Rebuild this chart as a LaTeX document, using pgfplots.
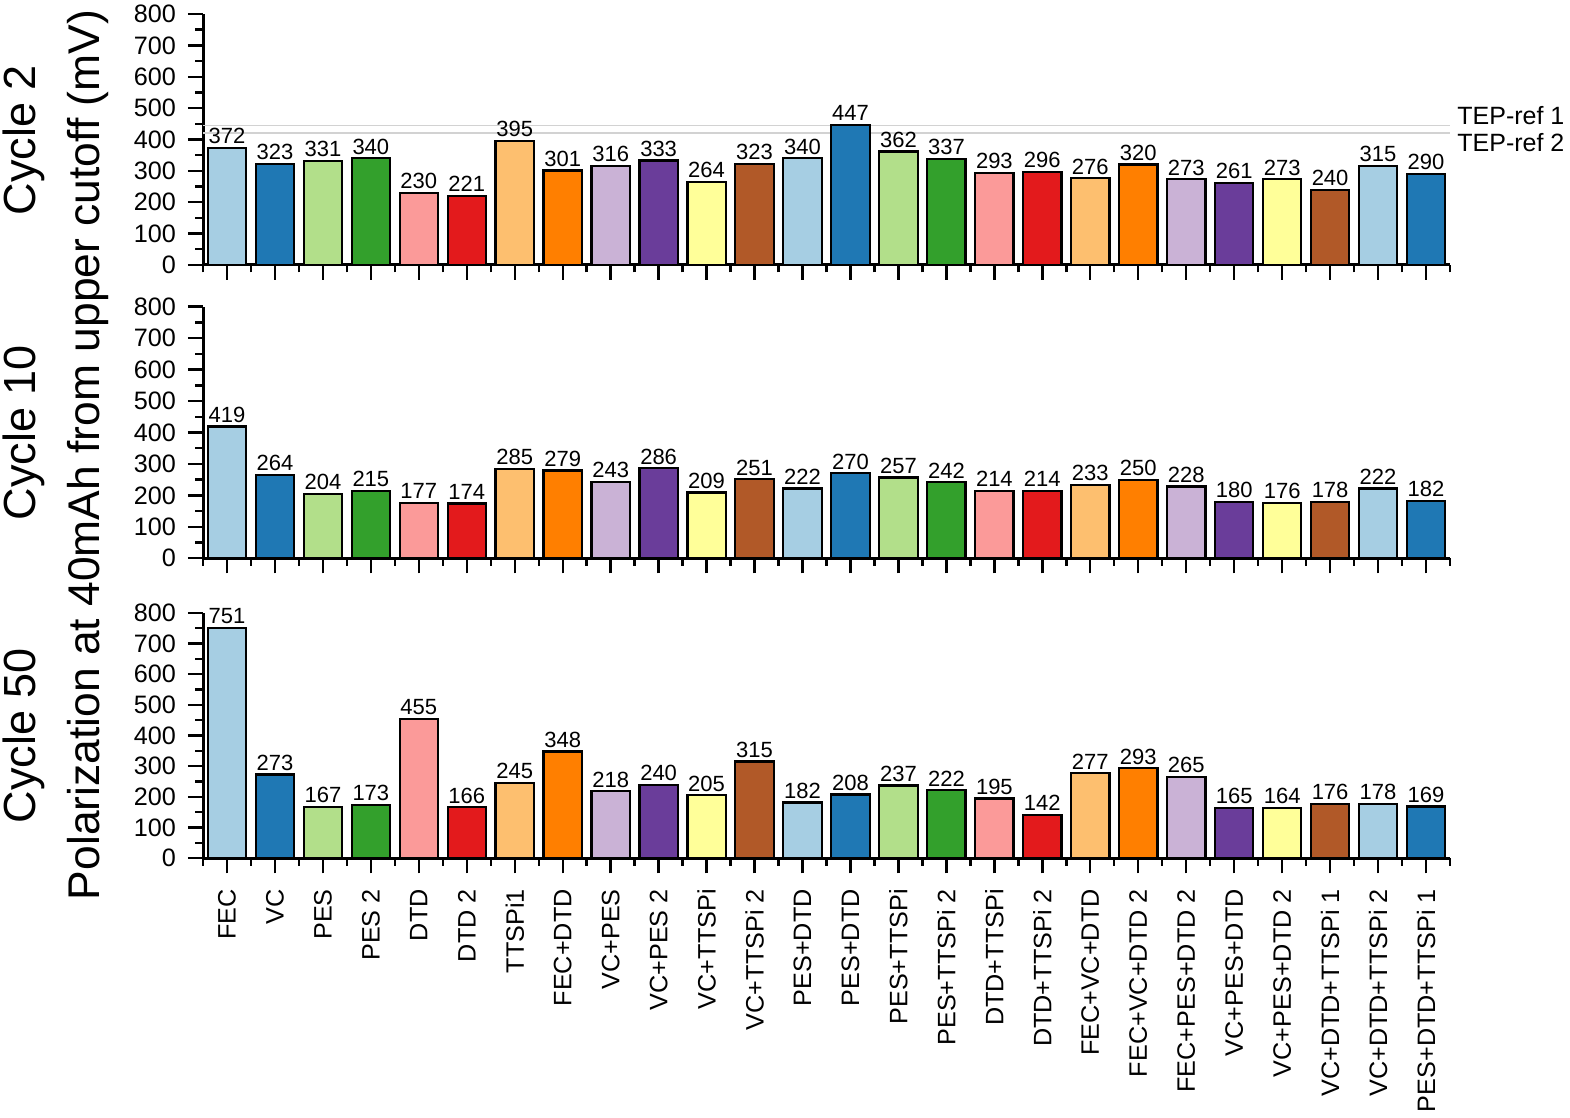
\documentclass[border=0pt]{standalone}
\usepackage{pgfplots}
\usepackage{pgfplotstable}
\pgfplotsset{compat=1.18}
\usepackage{fontspec}
\setmainfont{Liberation Sans}

\definecolor{c0}{HTML}{A6CEE3}
\definecolor{c1}{HTML}{1F78B4}
\definecolor{c2}{HTML}{B2DF8A}
\definecolor{c3}{HTML}{33A02C}
\definecolor{c4}{HTML}{FB9A99}
\definecolor{c5}{HTML}{E31A1C}
\definecolor{c6}{HTML}{FDBF6F}
\definecolor{c7}{HTML}{FF7F00}
\definecolor{c8}{HTML}{CAB2D6}
\definecolor{c9}{HTML}{6A3D9A}
\definecolor{c10}{HTML}{FFFF99}
\definecolor{c11}{HTML}{B15928}

% i = bar position, c = colour index, v = polarization (mV)
\pgfplotstableread{
i c v
0 0 372
1 1 323
2 2 331
3 3 340
4 4 230
5 5 221
6 6 395
7 7 301
8 8 316
9 9 333
10 10 264
11 11 323
12 0 340
13 1 447
14 2 362
15 3 337
16 4 293
17 5 296
18 6 276
19 7 320
20 8 273
21 9 261
22 10 273
23 11 240
24 0 315
25 1 290
}\cyctwo

\pgfplotstableread{
i c v
0 0 419
1 1 264
2 2 204
3 3 215
4 4 177
5 5 174
6 6 285
7 7 279
8 8 243
9 9 286
10 10 209
11 11 251
12 0 222
13 1 270
14 2 257
15 3 242
16 4 214
17 5 214
18 6 233
19 7 250
20 8 228
21 9 180
22 10 176
23 11 178
24 0 222
25 1 182
}\cycten

\pgfplotstableread{
i c v
0 0 751
1 1 273
2 2 167
3 3 173
4 4 455
5 5 166
6 6 245
7 7 348
8 8 218
9 9 240
10 10 205
11 11 315
12 0 182
13 1 208
14 2 237
15 3 222
16 4 195
17 5 142
18 6 277
19 7 293
20 8 265
21 9 165
22 10 164
23 11 176
24 0 178
25 1 169
}\cycfifty

\pgfplotsset{
  panel/.style={
    scale only axis, width=623.5pt,
    xmin=-0.5, xmax=25.5, ymin=0, ymax=800,
    axis x line*=bottom, axis y line*=left,
    axis line style={line width=1.5pt},
    tick align=outside,
    xtick={0,...,25}, minor xtick={-0.5,0.5,...,25.5},
    ytick={0,100,...,800}, minor ytick={50,150,...,750},
    major tick length=7.5pt, minor tick length=3.75pt,
    tick style={black, line width=1.2pt},
    ticklabel style={font=\fontsize{12.6}{14}\selectfont},
    yticklabel shift=2.5pt, xticklabel shift=4.5pt,
    /pgf/number format/assume math mode=true,
    xticklabels={}, clip=false,
  },
  bars/.style={ybar, bar width=0.8, bar shift=0pt, draw=black, line width=1.1pt,
    nodes near coords,
    every node near coord/.append style={font=\fontsize{11}{13}\selectfont, text=black, inner sep=1.5pt}},
}

\begin{document}
\begin{tikzpicture}
\useasboundingbox (0,0) rectangle (785pt,559pt);

\begin{axis}[panel, at={(101.5pt,426.5pt)}, anchor=south west, height=125.5pt]
\addplot[gray!35, line width=0.75pt, forget plot] coordinates {(-0.5,444) (25.5,444)};
\addplot[gray!35, line width=0.75pt, forget plot] coordinates {(-0.5,420) (25.5,420)};
\pgfplotsinvokeforeach{0,...,11}{
  \addplot[bars, fill=c#1, restrict expr to domain={\thisrow{c}}{#1:#1}] table[x=i, y=v] {\cyctwo};
}
\end{axis}

\begin{axis}[panel, at={(101.5pt,279.85pt)}, anchor=south west, height=125.8pt]
\pgfplotsinvokeforeach{0,...,11}{
  \addplot[bars, fill=c#1, restrict expr to domain={\thisrow{c}}{#1:#1}] table[x=i, y=v] {\cycten};
}
\end{axis}

\begin{axis}[panel, at={(101.5pt,129.85pt)}, anchor=south west, height=122.8pt,
  xticklabels={FEC, VC, PES, PES 2, DTD, DTD 2, TTSPi1, FEC+DTD, VC+PES, VC+PES 2,
    VC+TTSPi, VC+TTSPi 2, PES+DTD, PES+DTD, PES+TTSPi, PES+TTSPi 2, DTD+TTSPi,
    DTD+TTSPi 2, FEC+VC+DTD, FEC+VC+DTD 2, FEC+PES+DTD 2, VC+PES+DTD, VC+PES+DTD 2,
    VC+DTD+TTSPi 1, VC+DTD+TTSPi 2, PES+DTD+TTSPi 1},
  xticklabel style={rotate=90, anchor=east}]
\pgfplotsinvokeforeach{0,...,11}{
  \addplot[bars, fill=c#1, restrict expr to domain={\thisrow{c}}{#1:#1}] table[x=i, y=v] {\cycfifty};
}
\end{axis}

\node[rotate=90, anchor=base, font=\fontsize{22.5}{26}\selectfont, inner sep=0] at (17.5pt,489pt) {Cycle 2};
\node[rotate=90, anchor=base, font=\fontsize{22.5}{26}\selectfont, inner sep=0] at (17.5pt,342.75pt) {Cycle 10};
\node[rotate=90, anchor=base, font=\fontsize{22.5}{26}\selectfont, inner sep=0] at (17.5pt,191.25pt) {Cycle 50};
\node[rotate=90, anchor=base, font=\fontsize{22.2}{26}\selectfont, inner sep=0] at (49.5pt,331.5pt) {Polarization at 40mAh from upper cutoff (mV)};
\node[anchor=base west, font=\fontsize{12.5}{14}\selectfont, inner sep=0] at (728.5pt,496.5pt) {TEP-ref 1};
\node[anchor=base west, font=\fontsize{12.5}{14}\selectfont, inner sep=0] at (728.5pt,483pt) {TEP-ref 2};
\end{tikzpicture}
\end{document}
